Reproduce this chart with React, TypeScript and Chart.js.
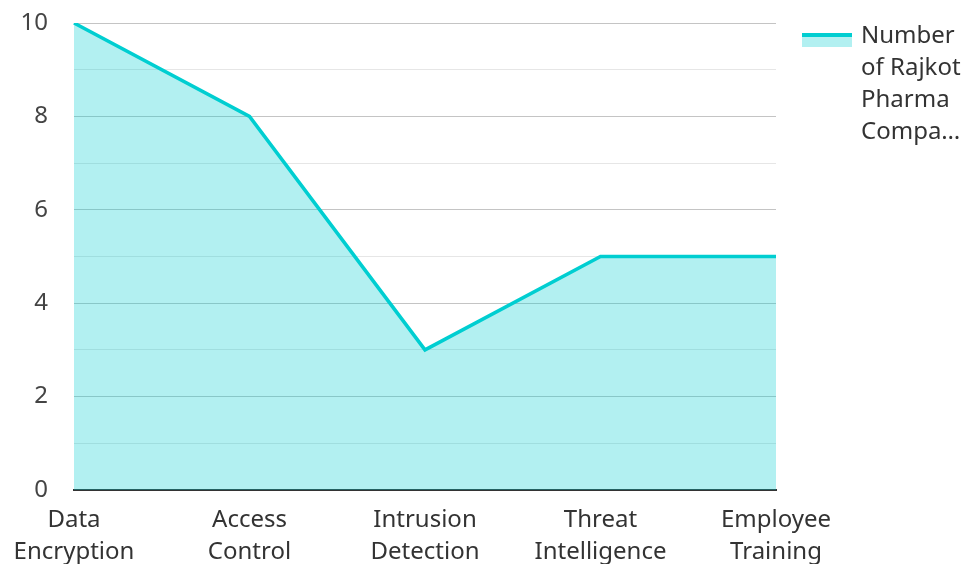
import React, { useEffect, useRef } from "react";
import { Chart, registerables } from "chart.js";

Chart.register(...registerables);

const categories: string[][] = [
  ["Data", "Encryption"],
  ["Access", "Control"],
  ["Intrusion", "Detection"],
  ["Threat", "Intelligence"],
  ["Employee", "Training"],
];
const seriesLabel = "Number of Rajkot Pharma Compa…";
const values: number[] = [10, 8, 3, 5, 5];
const yMin = 0;
const yMax = 10;
const yStep = 1;
const yLabelEvery = 2;

const LINE = "#00CED1";
const FILL = "rgba(0, 206, 209, 0.3)";
const FONT = "'Noto Sans', sans-serif";

export default function App() {
  const ref = useRef<HTMLCanvasElement | null>(null);

  useEffect(() => {
    document.body.style.margin = "0";
    document.body.style.overflow = "hidden";
    const chart = new Chart(ref.current as HTMLCanvasElement, {
      type: "line",
      data: {
        labels: categories,
        datasets: [
          {
            label: seriesLabel,
            data: values,
            borderColor: LINE,
            backgroundColor: FILL,
            borderWidth: 3.5,
            fill: "origin",
            pointRadius: 0,
            tension: 0,
          },
        ],
      },
      options: {
        animation: false,
        responsive: false,
        maintainAspectRatio: false,
        layout: { padding: { top: 23, right: 190, left: 0, bottom: 0 } },
        plugins: { legend: { display: false }, tooltip: { enabled: false } },
        scales: {
          x: {
            offset: false,
            grid: { display: false, drawTicks: false },
            border: { display: true, color: "#333333", width: 2 },
            ticks: {
              color: "#333333",
              font: { family: FONT, size: 24, lineHeight: 1.333 },
              padding: 14,
              maxRotation: 0,
              autoSkip: false,
            },
            afterFit: (s: any) => {
              s.height = 110;
              s.paddingLeft = 0;
              s.paddingRight = 0;
              s.paddingTop = 0;
              s.paddingBottom = 0;
            },
          },
          y: {
            min: yMin,
            max: yMax,
            grid: {
              drawTicks: false,
              color: (c: any) =>
                c.tick && c.tick.value % yLabelEvery === 0 ? "#c4c4c4" : "#e6e6e6",
              lineWidth: 1,
            },
            border: { display: false },
            ticks: {
              stepSize: yStep,
              color: "#444444",
              padding: 26,
              font: { family: FONT, size: 24 },
              callback: (v: any) => (Number(v) % yLabelEvery === 0 ? String(v) : ""),
            },
            afterFit: (s: any) => {
              s.width = 74;
              s.paddingTop = 0;
              s.paddingBottom = 0;
            },
          },
        },
      },
    });
    return () => chart.destroy();
  }, []);

  return (
    <div style={{ position: "fixed", left: 0, top: 0, width: 966, height: 600 }}>
      <canvas ref={ref} width={966} height={600} style={{ width: 966, height: 600, display: "block" }} />
      <div
        style={{
          position: "absolute",
          left: 802,
          top: 33,
          width: 50,
          height: 10,
          borderTop: `4px solid ${LINE}`,
          background: FILL,
        }}
      />
      <div
        style={{
          position: "absolute",
          left: 861,
          top: 18,
          width: 105,
          fontFamily: FONT,
          fontSize: 24,
          lineHeight: "32px",
          color: "#333333",
        }}
      >
        {seriesLabel}
      </div>
    </div>
  );
}
